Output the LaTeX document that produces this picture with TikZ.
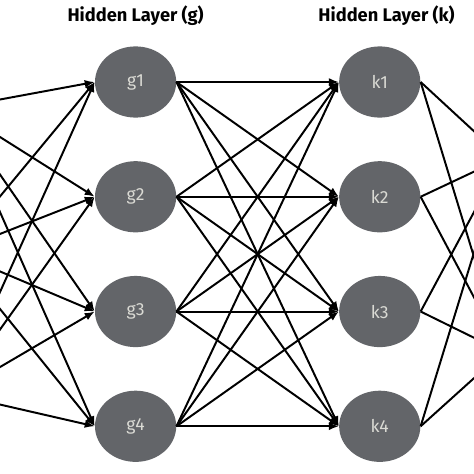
\documentclass[tikz,border=0pt]{standalone}
\usepackage{fontspec}
\setmainfont{Fira Sans}
\usetikzlibrary{positioning,arrows.meta,shapes.geometric}

\definecolor{cinzaescuro}{RGB}{99,101,105}
\definecolor{cinzaclaro}{RGB}{218,218,212}

\begin{document}
\begin{tikzpicture}[
    node distance=1.075cm and 4.06cm,
    neuronio/.style={ellipse, fill=cinzaescuro, text=cinzaclaro, minimum width=2.03cm, minimum height=1.78cm, inner sep=0pt, font=\fontsize{12.5}{14}\selectfont},
    titulo/.style={font=\bfseries\fontsize{13}{15}\selectfont},
    arrow/.style={-{Latex[length=2.5mm, width=2mm]}, line width=1.4pt},
    linha/.style={line width=1.4pt}
]
\useasboundingbox (0,0) rectangle (11.85,11.85);
\clip (0,0) rectangle (11.85,11.85);

% Camada oculta g
\node[neuronio] (g1) at (3.39,9.8) {g1};
\node[neuronio, below=of g1] (g2) {g2};
\node[neuronio, below=of g2] (g3) {g3};
\node[neuronio, below=of g3] (g4) {g4};

% Camada oculta k
\node[neuronio, right=of g1] (k1) {k1};
\node[neuronio, below=of k1] (k2) {k2};
\node[neuronio, below=of k2] (k3) {k3};
\node[neuronio, below=of k3] (k4) {k4};

% Titulos
\node[titulo, above=0.4cm of g1] (titulo_g) {Hidden Layer (g)};
\node[titulo, above=0.4cm of k1, xshift=0.17cm] (titulo_k) {Hidden Layer (k)};

% Entradas e saidas (fora da figura)
\coordinate (entrada1) at (-1.15,9.15);
\coordinate (entrada2) at (-1.15,5.55);
\coordinate (entrada3) at (-1.15,2.0);
\coordinate (saida1) at (12.575,7.9);
\coordinate (saida2) at (12.575,3.05);

% Entradas -> g
\draw[arrow] (entrada1) -- (g1.west);
\draw[arrow] (entrada1) -- (g2.west);
\draw[arrow] (entrada1) -- (g3.west);
\draw[arrow] (entrada1) -- (g4.west);
\draw[arrow] (entrada2) -- (g1.west);
\draw[arrow] (entrada2) -- (g2.west);
\draw[arrow] (entrada2) -- (g3.west);
\draw[arrow] (entrada2) -- (g4.west);
\draw[arrow] (entrada3) -- (g1.west);
\draw[arrow] (entrada3) -- (g2.west);
\draw[arrow] (entrada3) -- (g3.west);
\draw[arrow] (entrada3) -- (g4.west);

% g -> k
\draw[arrow] (g1.east) -- (k1.west);
\draw[arrow] (g1.east) -- (k2.west);
\draw[arrow] (g1.east) -- (k3.west);
\draw[arrow] (g1.east) -- (k4.west);
\draw[arrow] (g2.east) -- (k1.west);
\draw[arrow] (g2.east) -- (k2.west);
\draw[arrow] (g2.east) -- (k3.west);
\draw[arrow] (g2.east) -- (k4.west);
\draw[arrow] (g3.east) -- (k1.west);
\draw[arrow] (g3.east) -- (k2.west);
\draw[arrow] (g3.east) -- (k3.west);
\draw[arrow] (g3.east) -- (k4.west);
\draw[arrow] (g4.east) -- (k1.west);
\draw[arrow] (g4.east) -- (k2.west);
\draw[arrow] (g4.east) -- (k3.west);
\draw[arrow] (g4.east) -- (k4.west);

% k -> saidas
\draw[linha] (k1.east) -- (saida1);
\draw[linha] (k1.east) -- (saida2);
\draw[linha] (k2.east) -- (saida1);
\draw[linha] (k2.east) -- (saida2);
\draw[linha] (k3.east) -- (saida1);
\draw[linha] (k3.east) -- (saida2);
\draw[linha] (k4.east) -- (saida1);
\draw[linha] (k4.east) -- (saida2);

\end{tikzpicture}
\end{document}
